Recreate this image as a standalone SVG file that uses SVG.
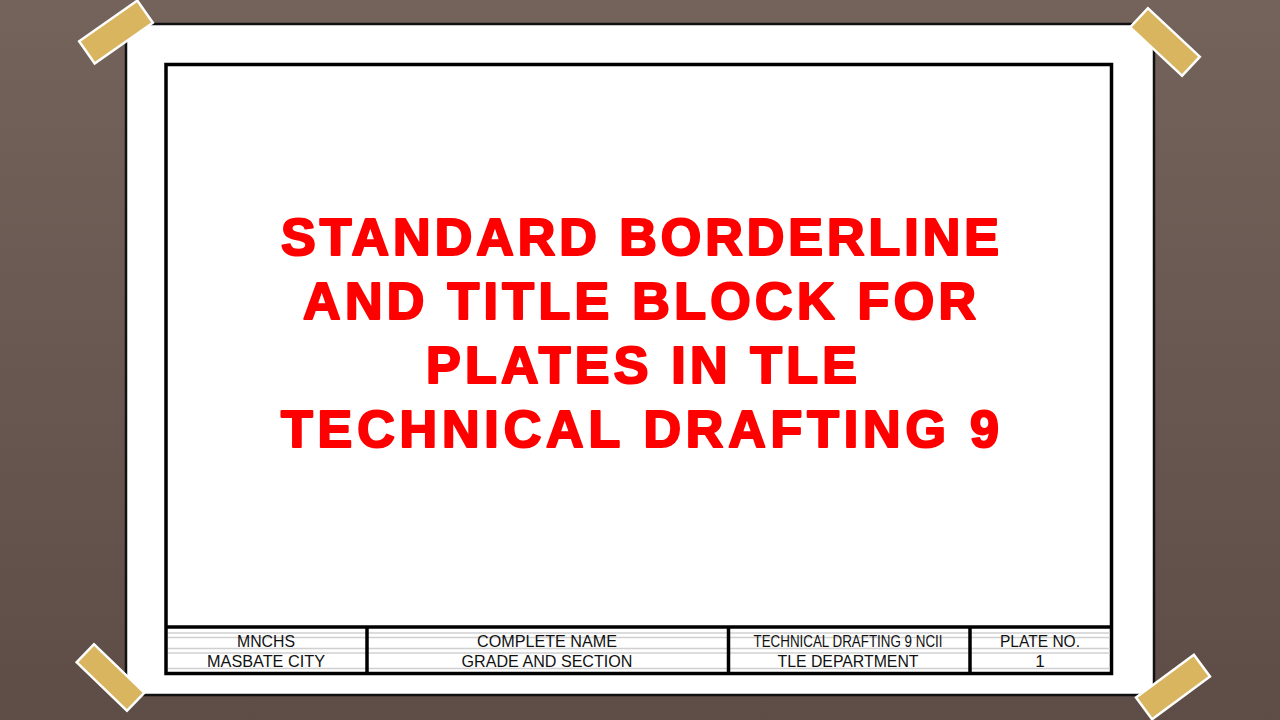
<svg xmlns="http://www.w3.org/2000/svg" width="1280" height="720" viewBox="0 0 1280 720">
  <defs>
    <linearGradient id="bg" x1="0" y1="0" x2="0" y2="1">
      <stop offset="0" stop-color="#73635B"/>
      <stop offset="1" stop-color="#5E4D47"/>
    </linearGradient>
    <style>
      .tape { fill: #D8B55E; stroke: #FFFFFF; stroke-width: 2.5; }
      .thick { stroke: #000; stroke-width: 3.5; fill: none; }
      .grey { stroke: #D0D0D0; stroke-width: 1.5; }
      .title { font-family: "Liberation Sans", Arial, sans-serif; font-weight: bold; font-size: 52px; fill: #FF0000; stroke: #FF0000; stroke-width: 2.2; stroke-linejoin: round; }
      .cell { font-family: "Liberation Sans", Arial, sans-serif; font-size: 17px; fill: #111; text-anchor: middle; }
    </style>
  </defs>

  <rect width="1280" height="720" fill="url(#bg)"/>

  <g id="paper">
    <rect x="126" y="24" width="1028" height="671" fill="#FFFFFF" stroke="#111" stroke-width="2.5"/>
  </g>

  <g id="tapes">
    <rect class="tape" x="-35.5" y="-13.5" width="71" height="27" transform="translate(116,32) rotate(-35)"/>
    <rect class="tape" x="-35.5" y="-13" width="71" height="26" transform="translate(1165,42) rotate(43)"/>
    <rect class="tape" x="-35" y="-12.5" width="70" height="25" transform="translate(110.5,677.5) rotate(44)"/>
    <rect class="tape" x="-36" y="-13.5" width="72" height="27" transform="translate(1173,687) rotate(-36.5)"/>
  </g>

  <g id="border">
    <rect class="thick" x="166" y="64.5" width="945.5" height="609"/>
  </g>

  <g id="title-block">
    <g class="grey-lines">
      <line class="grey" x1="168" y1="633" x2="1110" y2="633"/>
      <line class="grey" x1="168" y1="637.5" x2="1110" y2="637.5"/>
      <line class="grey" x1="168" y1="648.5" x2="1110" y2="648.5"/>
      <line class="grey" x1="168" y1="653" x2="1110" y2="653"/>
      <line class="grey" x1="168" y1="668.5" x2="1110" y2="668.5"/>
    </g>
    <line class="thick" x1="166" y1="627" x2="1111.5" y2="627"/>
    <line class="thick" x1="367" y1="627" x2="367" y2="673.5"/>
    <line class="thick" x1="728.5" y1="627" x2="728.5" y2="673.5"/>
    <line class="thick" x1="970" y1="627" x2="970" y2="673.5"/>

    <g id="cell-school">
      <text class="cell" x="266" y="647" textLength="58" lengthAdjust="spacingAndGlyphs">MNCHS</text>
      <text class="cell" x="266" y="667" textLength="118" lengthAdjust="spacingAndGlyphs">MASBATE  CITY</text>
    </g>
    <g id="cell-name">
      <text class="cell" x="547" y="647" textLength="140" lengthAdjust="spacingAndGlyphs">COMPLETE  NAME</text>
      <text class="cell" x="547" y="667" textLength="171" lengthAdjust="spacingAndGlyphs">GRADE AND SECTION</text>
    </g>
    <g id="cell-subject">
      <text class="cell" x="848" y="647" textLength="189" lengthAdjust="spacingAndGlyphs">TECHNICAL DRAFTING 9 NCII</text>
      <text class="cell" x="848" y="667" textLength="141" lengthAdjust="spacingAndGlyphs">TLE DEPARTMENT</text>
    </g>
    <g id="cell-plate">
      <text class="cell" x="1040" y="647" textLength="80" lengthAdjust="spacingAndGlyphs">PLATE NO.</text>
      <text class="cell" x="1040" y="667">1</text>
    </g>
  </g>

  <g id="heading">
    <text class="title" x="281" y="255" textLength="718" lengthAdjust="spacing">STANDARD BORDERLINE</text>
    <text class="title" x="303" y="319" textLength="673" lengthAdjust="spacing">AND TITLE BLOCK FOR</text>
    <text class="title" x="426" y="383" textLength="431" lengthAdjust="spacing">PLATES IN TLE</text>
    <text class="title" x="281" y="447" textLength="718" lengthAdjust="spacing">TECHNICAL DRAFTING 9</text>
  </g>
</svg>
